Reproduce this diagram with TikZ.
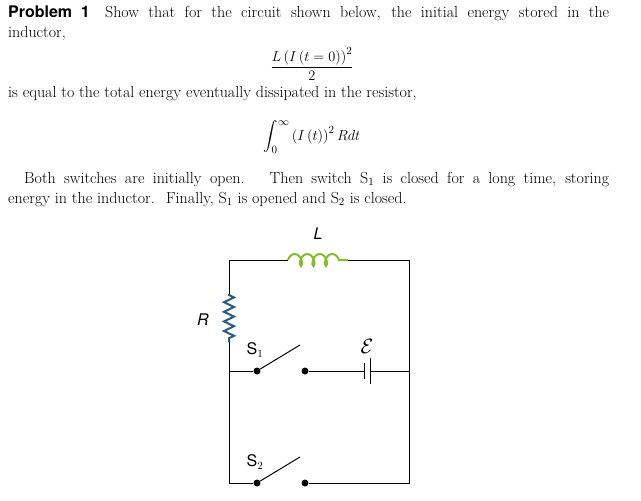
\documentclass[tikz,border=0pt]{standalone}
\usepackage{fontspec}
\usepackage{amsmath}
\newfontfamily\heros{TeX Gyre Heros}
\usetikzlibrary{decorations.pathmorphing}
\begin{document}
\begin{tikzpicture}[x=1pt,y=-1pt,
  txt/.style={anchor=base west,inner sep=0pt,font=\fontsize{16}{18}\selectfont},
  mth/.style={inner sep=0pt,font=\fontsize{15}{17}\selectfont},
  lbl/.style={inner sep=0pt,font=\heros\fontsize{16}{18}\selectfont},
  wire/.style={line width=1pt},
  dot/.style={circle,fill=black,inner sep=0pt,minimum size=7pt}]
\useasboundingbox (0,0) rectangle (641,501);
\node[txt] (t1) at (8,17) {\makebox[601pt][s]{{\heros\bfseries Problem 1}\hspace{6pt} Show that for the circuit shown below, the initial energy stored in the}};
\node[txt] (t2) at (8,37) {inductor,};
\node[mth] (f1) at (312,64) {$\dfrac{L\left(I\left(t=0\right)\right)^2}{2}$};
\node[txt] (t3) at (8,97) {is equal to the total energy eventually dissipated in the resistor,};
\node[mth] (f2) at (312,137) {$\displaystyle\int_0^\infty \left(I\left(t\right)\right)^2 R dt$};
\node[txt] (t4) at (24,183) {\makebox[585pt][s]{Both switches are initially open. \ Then switch S$_1$ is closed for a long time, storing}};
\node[txt] (t5) at (8,203) {energy in the inductor. \ Finally, S$_1$ is opened and S$_2$ is closed.};
% circuit
\coordinate (tl) at (229,260); \coordinate (tr) at (409,260);
\coordinate (ml) at (229,371); \coordinate (mr) at (409,371);
\coordinate (bl) at (229,483); \coordinate (br) at (409,483);
\coordinate (la) at (288,260); \coordinate (lb) at (348,260);
\coordinate (ra) at (229,294); \coordinate (rb) at (229,342);
\node[dot] (s1a) at (257,371) {}; \node[dot] (s1b) at (305,371) {};
\node[dot] (s2a) at (257,483) {}; \node[dot] (s2b) at (305,483) {};
\coordinate (s1t) at (300,345); \coordinate (s2t) at (300,457);
\coordinate (bp1) at (364,371); \coordinate (bp2) at (370,371);
\draw[wire] (la) -- (tl) -- (ra);
\draw[wire] (lb) -- (tr) -- (br) -- (s2b);
\draw[wire] (rb) -- (bl) -- (s2a);
\draw[wire] (ml) -- (s1a);
\draw[wire] (s1b) -- (bp1);
\draw[wire] (bp2) -- (mr);
\draw[wire] (s1a) -- (s1t);
\draw[wire] (s2a) -- (s2t);
\draw[line width=1pt] (364,363) -- (364,379);
\draw[line width=1pt] (370,358) -- (370,384);
\draw[line width=2pt,color={rgb,255:red,40;green,90;blue,130},decorate,decoration={zigzag,segment length=9.6pt,amplitude=5pt,pre length=1pt,post length=1pt}] (ra) -- (rb);
\draw[line width=2pt,color={rgb,255:red,130;green,190;blue,40},decorate,decoration={coil,aspect=0.6,segment length=12.5pt,amplitude=6pt,pre length=0pt,post length=0pt}] (la) -- (lb);
\node[lbl] (lL) at (318,234) {\itshape L};
\node[lbl] (lR) at (203,320) {\itshape R};
\node[lbl] (lS1) at (255,350) {S$_1$};
\node[lbl] (lS2) at (255,462) {S$_2$};
\node[lbl] (lE) at (367,346) {\fontsize{20}{20}\selectfont$\mathcal{E}$};
\end{tikzpicture}
\end{document}
